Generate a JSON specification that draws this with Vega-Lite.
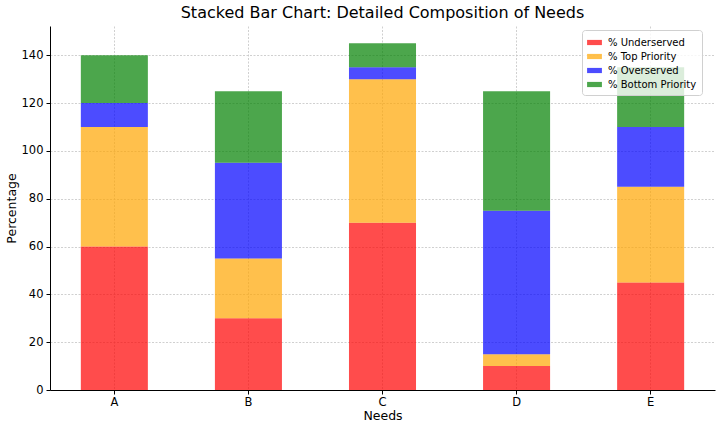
{
  "$schema": "https://vega.github.io/schema/vega-lite/v6.json",
  "width": 665,
  "height": 364,
  "autosize": {"type": "none"},
  "padding": {"left": 50, "top": 26, "right": 5, "bottom": 39},
  "background": "white",
  "config": {
    "font": "DejaVu Sans",
    "view": {"stroke": null},
    "title": {"fontSize": 16, "fontWeight": "normal", "color": "black", "offset": 5}
  },
  "title": {"text": "Stacked Bar Chart: Detailed Composition of Needs"},
  "data": {
    "values": [
      {"need": "A", "category": "% Underserved", "rank": 1, "value": 60},
      {"need": "A", "category": "% Top Priority", "rank": 2, "value": 50},
      {"need": "A", "category": "% Overserved", "rank": 3, "value": 10},
      {"need": "A", "category": "% Bottom Priority", "rank": 4, "value": 20},
      {"need": "B", "category": "% Underserved", "rank": 1, "value": 30},
      {"need": "B", "category": "% Top Priority", "rank": 2, "value": 25},
      {"need": "B", "category": "% Overserved", "rank": 3, "value": 40},
      {"need": "B", "category": "% Bottom Priority", "rank": 4, "value": 30},
      {"need": "C", "category": "% Underserved", "rank": 1, "value": 70},
      {"need": "C", "category": "% Top Priority", "rank": 2, "value": 60},
      {"need": "C", "category": "% Overserved", "rank": 3, "value": 5},
      {"need": "C", "category": "% Bottom Priority", "rank": 4, "value": 10},
      {"need": "D", "category": "% Underserved", "rank": 1, "value": 10},
      {"need": "D", "category": "% Top Priority", "rank": 2, "value": 5},
      {"need": "D", "category": "% Overserved", "rank": 3, "value": 60},
      {"need": "D", "category": "% Bottom Priority", "rank": 4, "value": 50},
      {"need": "E", "category": "% Underserved", "rank": 1, "value": 45},
      {"need": "E", "category": "% Top Priority", "rank": 2, "value": 40},
      {"need": "E", "category": "% Overserved", "rank": 3, "value": 25},
      {"need": "E", "category": "% Bottom Priority", "rank": 4, "value": 25}
    ]
  },
  "mark": {"type": "bar", "opacity": 0.7, "strokeWidth": 0.8, "strokeOpacity": 0.5},
  "encoding": {
    "x": {
      "field": "need",
      "type": "nominal",
      "title": "Needs",
      "scale": {"paddingInner": 0.5, "paddingOuter": 0.23},
      "axis": {
        "labelAngle": 0,
        "labelFontSize": 11.5,
        "labelColor": "black",
        "labelPadding": 2,
        "titleFontSize": 12.5,
        "titleFontWeight": "normal",
        "titleColor": "black",
        "titlePadding": 2,
        "domainColor": "black",
        "tickColor": "black",
        "tickSize": 4,
        "bandPosition": 0.5,
        "grid": true,
        "gridColor": "#c4c4c4",
        "gridDash": [2, 1.5],
        "gridWidth": 0.8
      }
    },
    "y": {
      "field": "value",
      "type": "quantitative",
      "stack": "zero",
      "title": "Percentage",
      "scale": {"domain": [0, 152.25], "nice": false},
      "axis": {
        "values": [0, 20, 40, 60, 80, 100, 120, 140],
        "labelFontSize": 11.5,
        "labelColor": "black",
        "labelPadding": 3,
        "titleFontSize": 12.5,
        "titleFontWeight": "normal",
        "titleColor": "black",
        "titlePadding": 3,
        "domainColor": "black",
        "tickColor": "black",
        "tickSize": 4,
        "grid": true,
        "gridColor": "#c4c4c4",
        "gridDash": [2, 1.5],
        "gridWidth": 0.8
      }
    },
    "color": {
      "field": "category",
      "type": "nominal",
      "title": null,
      "scale": {
        "domain": ["% Underserved", "% Top Priority", "% Overserved", "% Bottom Priority"],
        "range": ["#ff0000", "#ffa500", "#0000ff", "#008000"]
      },
      "legend": {
        "orient": "none",
        "legendX": 532,
        "legendY": 4,
        "padding": 5,
        "fillColor": "rgba(255,255,255,0.8)",
        "strokeColor": "#d0d0d0",
        "cornerRadius": 3,
        "labelFontSize": 10,
        "labelColor": "black",
        "symbolType": "M-1,-0.35H1V0.35H-1Z",
        "symbolSize": 220,
        "symbolOpacity": 0.7,
        "symbolStrokeWidth": 0,
        "rowPadding": 1,
        "labelOffset": 6
      }
    },
    "order": {"field": "rank", "type": "quantitative"}
  }
}
